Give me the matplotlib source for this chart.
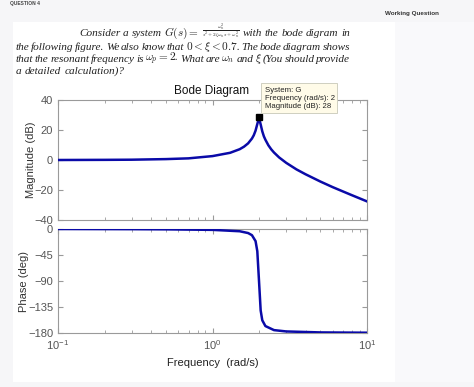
import matplotlib
matplotlib.use("Agg")
import matplotlib.pyplot as plt
from matplotlib.patches import Rectangle
from matplotlib.ticker import LogLocator, NullFormatter

W, H = 474, 387

# values
mag_freq = [0.1, 0.2, 0.3, 0.5, 0.7, 1.0, 1.3, 1.5, 1.6, 1.7, 1.8, 1.85, 1.9, 1.95,
            2.0, 2.05, 2.1, 2.15, 2.2, 2.3, 2.4, 2.5, 2.7, 3.0, 3.5, 4.0, 5.0, 6.0,
            7.0, 8.0, 10.0]
mag_db = [0.0, 0.1, 0.2, 0.6, 1.1, 2.6, 4.8, 7.2, 8.9, 11.1, 14.3, 16.5, 19.6, 24.0,
          28.0, 23.7, 19.1, 15.8, 13.5, 9.8, 7.1, 5.0, 1.7, -1.9, -6.3, -9.5, -14.4,
          -18.1, -21.0, -23.5, -27.6]

ph_freq = [0.1, 0.3, 0.5, 1.0, 1.5, 1.7, 1.8, 1.9, 1.95, 2.0, 2.05, 2.1, 2.2, 2.5,
           3.0, 5.0, 10.0]
ph_deg = [0.0, -0.3, -0.6, -1.5, -3.9, -7.0, -10.7, -21.0, -38.5, -90.0, -141.0,
          -158.0, -168.0, -175.0, -177.3, -179.0, -179.5]

peak_freq, peak_db = 2, 28
mag_ticks = [-40, -20, 0, 20, 40]
ph_ticks = [-180, -135, -90, -45, 0]

frac = r"$\frac{\omega_n^2}{s^2+2\xi\omega_n s+\omega_n^2}$"
question = [
    ["Consider", "a", "system", r"$G(s)=$", frac, "with", "the", "bode", "digram", "in"],
    ["the", "following", "figure.", "We", "also", "know", "that", r"$0<\xi<0.7$.",
     "The", "bode", "diagram", "shows"],
    ["that", "the", "resonant", "frequency", "is", r"$\omega_p=2$.", "What", "are",
     r"$\omega_n$", "and", r"$\xi$", "(You", "should", "provide"],
    ["a", "detailed", "calculation)?"],
]
line_x0 = [79, 16, 16, 16]
line_y = [36, 49.5, 61.5, 73.5]
justify = [True, True, True, False]


def fx(x):
    return x / W


def fy(y):
    return 1 - y / H


plt.rcParams["font.family"] = ["Liberation Sans", "DejaVu Sans"]
plt.rcParams["mathtext.fontset"] = "cm"

fig = plt.figure(figsize=(W / 100, H / 100), dpi=100)
fig.patch.set_facecolor("#f6f6f8")

# white card and the right side panel
fig.patches.append(Rectangle((fx(13), fy(382)), fx(382), (382 - 22) / H,
                             transform=fig.transFigure, facecolor="white",
                             edgecolor="none", zorder=-5))
fig.patches.append(Rectangle((fx(395), fy(382)), fx(79), (382 - 22) / H,
                             transform=fig.transFigure, facecolor="#f9f9fb",
                             edgecolor="none", zorder=-5))

fig.text(fx(10), fy(4), "QUESTION 4", fontsize=3.5, weight="bold", color="#444",
         va="center")
fig.text(fx(385), fy(14), "Working Question", fontsize=4.5, weight="bold",
         color="#333", va="center")

# question text, justified word by word like the page
renderer = fig.canvas.get_renderer()
for words, x0, y, just in zip(question, line_x0, line_y, justify):
    objs = []
    for w in words:
        if w == frac:
            t = fig.text(0, fy(y - 3), w, fontsize=5.4, va="baseline", color="#222")
        else:
            t = fig.text(0, fy(y), w, fontsize=8.1, style="italic",
                         family="Liberation Serif", va="baseline", color="#222")
        objs.append(t)
    widths = [t.get_window_extent(renderer).width for t in objs]
    if just:
        gap = (350 - x0 - sum(widths)) / (len(objs) - 1)
    else:
        gap = 3.5
    x = x0
    for t, wd in zip(objs, widths):
        t.set_x(fx(x))
        x += wd + gap

# axes
spine_c = "#9a9a9a"
ax1 = fig.add_axes([fx(58), fy(220), fx(309), 120 / H])
ax2 = fig.add_axes([fx(58), fy(333), fx(309), 104 / H])

line_c = "#0a0aa8"
ax1.semilogx(mag_freq, mag_db, color=line_c, lw=1.8, zorder=3)
ax1.plot([peak_freq], [peak_db + 0.8], marker="s", color="black", ms=4.5,
         zorder=4, clip_on=False)
ax2.semilogx(ph_freq, ph_deg, color=line_c, lw=1.8, zorder=3)

ax1.set_ylim(-40, 40)
ax1.set_yticks(mag_ticks)
ax2.set_ylim(-180, 0)
ax2.set_yticks(ph_ticks)

for ax in (ax1, ax2):
    ax.set_xlim(0.1, 10)
    ax.xaxis.set_major_locator(LogLocator(base=10))
    ax.xaxis.set_minor_locator(LogLocator(base=10, subs=range(2, 10)))
    ax.xaxis.set_minor_formatter(NullFormatter())
    for s in ax.spines.values():
        s.set_color(spine_c)
        s.set_linewidth(0.8)
    ax.tick_params(which="both", direction="in", top=True, right=True,
                   color=spine_c, labelcolor="#555", labelsize=8)
    ax.tick_params(which="major", length=3.5)
    ax.tick_params(which="minor", length=2)

ax1.tick_params(labelbottom=False)
ax2.tick_params(axis="x", pad=4)

ax1.set_ylabel("Magnitude (dB)", fontsize=8, color="#333", labelpad=-1)
ax2.set_ylabel("Phase (deg)", fontsize=8, color="#333", labelpad=-1)
ax2.set_xlabel("Frequency  (rad/s)", fontsize=8, color="#222", labelpad=4)

fig.text(fx(212), fy(91), "Bode Diagram", fontsize=8.5, ha="center",
         va="center", color="#111")

# data tip
fig.patches.append(Rectangle((fx(261), fy(113)), fx(76), 30 / H,
                             transform=fig.transFigure, facecolor="#fffbe8",
                             edgecolor="#cfcfc0", lw=0.7, zorder=5))
tip = ["System: G", "Frequency (rad/s): 2", "Magnitude (dB): 28"]
for i, t in enumerate(tip):
    fig.text(fx(265), fy(91 + 7.7 * i), t, fontsize=5.6, va="center",
             color="#222", zorder=6)

fig.savefig("out.png", dpi=100, facecolor=fig.get_facecolor())
